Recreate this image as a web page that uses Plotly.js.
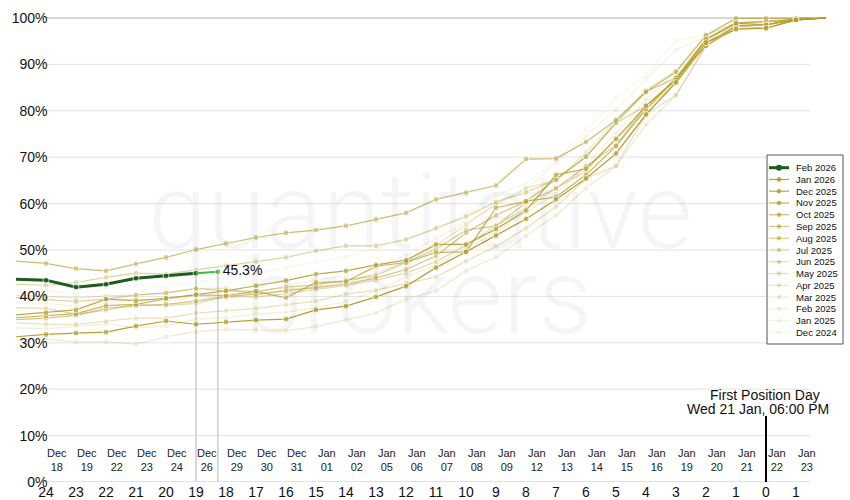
<!DOCTYPE html>
<html>
<head>
<meta charset="utf-8">
<script src="https://cdn.plot.ly/plotly-3.0.1.min.js"></script>
<style>
html,body{margin:0;padding:0;background:#fff;}
#chart{width:850px;height:500px;}
</style>
</head>
<body>
<div id="chart"></div>
<script>
// ---------- DATA ----------
const dayIndex = [-1,0,1,2,3,4,5,6,7,8,9,10,11,12,13,14,15,16,17,18,19,20,21,22,23,24,25,26];
const dayTickVals = [0,1,2,3,4,5,6,7,8,9,10,11,12,13,14,15,16,17,18,19,20,21,22,23,24,25];
const dayTickText = ['24','23','22','21','20','19','18','17','16','15','14','13','12','11','10','9','8','7','6','5','4','3','2','1','0','1'];
const dateLabels = ['Dec<br>18','Dec<br>19','Dec<br>22','Dec<br>23','Dec<br>24','Dec<br>26','Dec<br>29','Dec<br>30','Dec<br>31',
  'Jan<br>01','Jan<br>02','Jan<br>05','Jan<br>06','Jan<br>07','Jan<br>08','Jan<br>09','Jan<br>12','Jan<br>13','Jan<br>14',
  'Jan<br>15','Jan<br>16','Jan<br>19','Jan<br>20','Jan<br>21','Jan<br>22','Jan<br>23'];
const yTickVals = [0,10,20,30,40,50,60,70,80,90,100];
const yTickText = ['0%','10%','20%','30%','40%','50%','60%','70%','80%','90%','100%'];

const febDays = [-1,0,1,2,3,4,5];
const feb2026 = [43.7,43.5,42.0,42.6,43.9,44.4,45.0];
const latestDays = [5,5.73];
const latestValues = [45.0,45.3];

const jan2026 = [31.3,31.8,32.1,32.3,33.6,34.7,34.0,34.5,34.9,35.1,37.1,37.9,39.9,42.2,46.2,49.6,53.1,56.7,60.9,65.4,70.8,79.2,86.1,94.7,97.6,97.8,99.6,100];
const dec2025 = [36.0,36.5,37.1,39.4,39.1,39.6,40.4,41.2,42.3,43.4,44.8,45.5,46.8,47.8,51.2,51.2,54.5,58.5,66.2,67.5,73.9,81.1,86.6,95.4,98.9,98.5,99.6,100];
const nov2025 = [35.4,35.8,36.3,38.0,38.3,39.5,40.3,40.2,41.1,39.7,43.0,43.2,46.5,47.3,49.5,49.6,59.1,60.5,61.4,66.2,72.4,80.3,87.1,94.0,98.3,98.5,99.9,100];
const oct2025 = [47.6,47.1,46.0,45.5,47.0,48.4,50.1,51.4,52.7,53.7,54.3,55.2,56.6,58.0,60.9,62.4,63.9,69.6,69.7,73.3,78.0,84.1,88.4,96.3,99.9,99.9,99.9,100];
const sep2025 = [35.0,35.3,35.9,37.4,38.0,38.3,39.0,40.0,40.5,41.2,41.9,42.6,44.0,45.8,48.7,53.7,57.5,60.5,65.2,70.1,77.4,84.1,87.1,95.4,98.9,99.2,99.6,100];
const aug2025 = [39.8,39.4,38.9,39.4,40.3,40.7,41.7,41.2,41.1,42.0,42.5,43.5,44.5,47.3,50.2,54.3,55.2,60.2,63.3,68.0,72.6,81.0,86.6,94.7,98.3,97.8,99.6,100];
const jul2025 = [42.6,42.4,43.0,44.1,45.0,44.8,45.7,46.6,47.5,48.4,49.8,50.9,50.9,52.3,54.7,57.2,60.4,62.4,65.2,70.1,77.4,81.1,87.0,95.4,98.9,99.2,99.6,100];
const jun2025 = [37.6,37.4,36.2,37.0,38.2,38.0,38.5,39.9,39.9,40.6,41.5,42.3,43.5,45.0,47.5,51.0,55.2,59.0,63.3,67.0,74.1,80.3,86.1,94.0,98.3,98.5,99.6,100];
const may2025 = [34.3,34.0,34.0,34.6,35.3,35.3,36.4,36.9,37.4,38.2,39.0,40.5,41.3,42.8,44.2,47.6,50.8,54.7,59.3,65.4,68.1,79.2,83.4,94.0,97.6,97.8,99.6,100];
const apr2025 = [40.2,40.0,39.6,40.1,40.3,40.8,41.7,41.8,40.2,41.5,42.0,43.0,45.0,47.5,51.0,55.4,60.0,63.3,65.0,71.0,78.0,84.5,88.6,96.3,99.0,99.2,99.9,100];
const mar2025 = [30.6,30.8,30.2,30.2,29.7,31.3,32.4,32.9,32.8,32.6,33.5,35.0,36.4,39.4,41.2,45.5,48.5,53.0,57.5,63.3,68.1,77.0,83.4,94.0,97.6,97.8,99.6,100];
const feb2025 = [33.2,33.0,33.6,34.1,33.2,33.6,35.1,35.4,36.2,36.6,37.6,38.9,41.1,44.2,46.8,50.3,53.8,58.2,62.1,68.3,75.2,82.4,88.2,95.1,98.5,99.0,99.6,100];
const jan2025 = [38.8,38.5,37.9,38.5,39.4,39.0,40.0,39.5,40.8,42.3,43.6,44.4,46.0,49.1,52.5,55.9,59.6,63.1,68.7,74.6,80.2,86.9,93.1,96.0,99.0,99.4,99.9,100];
const dec2024 = [41.5,41.2,40.6,41.7,42.4,42.0,43.1,44.0,44.9,46.2,47.4,48.6,50.3,52.0,54.6,57.8,61.7,64.4,69.5,75.7,82.7,87.9,95.1,96.3,99.9,99.9,99.9,100];

const seriesNames = ['Jan 2026','Dec 2025','Nov 2025','Oct 2025','Sep 2025','Aug 2025','Jul 2025','Jun 2025','May 2025','Apr 2025','Mar 2025','Feb 2025','Jan 2025','Dec 2024'];
const seriesValues = [jan2026,dec2025,nov2025,oct2025,sep2025,aug2025,jul2025,jun2025,may2025,apr2025,mar2025,feb2025,jan2025,dec2024];
const firstPositionDay = 24;
const firstPositionLines = ['First Position Day','Wed 21 Jan, 06:00 PM'];

// ---------- STYLE / GEOMETRY ----------
const L = 16, R = 22, T = 13, B = 18;
const W = 850 - L - R, H = 500 - T - B;
const pxPerDay = 30, pxPerPct = 4.64;
const xRange = [-1, -1 + W / pxPerDay];
const yRange = [0, H / pxPerPct];
const px = x => (x - L) / W;          // pixel -> paper x
const py = y => (500 - B - y) / H;    // pixel -> paper y
const dx = x => (x - 46) / pxPerDay;  // pixel -> data x
const GOLD = 'rgb(180,156,38)';
const opac = [0.95,0.85,0.75,0.65,0.57,0.5,0.43,0.37,0.31,0.26,0.21,0.16,0.12,0.08];
const DARK = '#1d5c1d', LIGHTG = '#3dbb3d';
const FONT = 'Liberation Sans, Arial, sans-serif';

const markerSizes = xs => xs.map(x => (x < 0 || x > 25.5) ? 0 : 6);

const traces = [];
seriesValues.slice().reverse().forEach((vals, k) => {
  const idx = seriesValues.length - 1 - k;
  traces.push({
    type: 'scatter', mode: 'lines+markers', name: seriesNames[idx],
    x: dayIndex, y: vals, opacity: opac[idx],
    line: {color: GOLD, width: 1.2},
    marker: {color: GOLD, size: markerSizes(dayIndex)},
    showlegend: false, hoverinfo: 'skip'
  });
});
traces.push({
  type: 'scatter', mode: 'lines+markers', name: 'Feb 2026',
  x: febDays, y: feb2026,
  line: {color: DARK, width: 3},
  marker: {color: DARK, size: markerSizes(febDays)},
  showlegend: false, hoverinfo: 'skip'
});
traces.push({
  type: 'scatter', mode: 'lines+markers+text', name: 'latest',
  x: latestDays, y: latestValues,
  text: ['', latestValues[1].toFixed(1) + '%'],
  textposition: 'middle right',
  textfont: {family: FONT, size: 14, color: '#111'},
  line: {color: LIGHTG, width: 2},
  marker: {color: LIGHTG, size: [0, 6]},
  cliponaxis: false, showlegend: false, hoverinfo: 'skip'
});

// ---------- SHAPES ----------
const shapes = [];
yTickVals.forEach(v => {
  if (v === 0 || v === 100) return;
  shapes.push({type:'line', xref:'x', yref:'y', x0:dx(45), x1:dx(810), y0:v, y1:v,
    line:{color:'#e3e3e3', width:1}, layer:'below'});
});
shapes.push({type:'line', xref:'x', yref:'y', x0:dx(45), x1:dx(810), y0:100, y1:100, line:{color:'#b0b0b0', width:1}, layer:'below'});
shapes.push({type:'line', xref:'x', yref:'y', x0:dx(45), x1:dx(810), y0:0, y1:0, line:{color:'#c4c4c4', width:1}, layer:'below'});
shapes.push({type:'line', xref:'x', yref:'y', x0:febDays[febDays.length-1], x1:febDays[febDays.length-1], y0:0, y1:feb2026[feb2026.length-1], line:{color:'#d8d8d8', width:2}, layer:'below'});
shapes.push({type:'line', xref:'x', yref:'y', x0:latestDays[1], x1:latestDays[1], y0:0, y1:latestValues[1], line:{color:'#b5b5b5', width:1}, layer:'below'});
shapes.push({type:'line', xref:'x', yref:'y', x0:firstPositionDay, x1:firstPositionDay, y0:0, y1:14.2, line:{color:'#000', width:2}, layer:'above'});

// legend
const legTop = 155, legBot = 344, legL = 767, legR = 843;
shapes.push({type:'rect', xref:'paper', yref:'paper', x0:px(legL), x1:px(legR), y0:py(legBot), y1:py(legTop),
  fillcolor:'#fff', line:{color:'#555', width:1}, layer:'above'});
const annotations = [];
const legNames = ['Feb 2026'].concat(seriesNames);
legNames.forEach((nm, k) => {
  const yy = 167.7 + k * 11.76;
  const isFeb = k === 0;
  const col = isFeb ? DARK : GOLD;
  const op = isFeb ? 1 : opac[k - 1];
  shapes.push({type:'line', xref:'paper', yref:'paper', x0:px(769), x1:px(789), y0:py(yy), y1:py(yy),
    line:{color:col, width:isFeb ? 3 : 1.2}, opacity:op, layer:'above'});
  const r = isFeb ? 3 : 2.2;
  shapes.push({type:'circle', xref:'paper', yref:'paper', x0:px(779 - r), x1:px(779 + r), y0:py(yy + r), y1:py(yy - r),
    fillcolor:col, line:{width:0}, opacity:op, layer:'above'});
  annotations.push({xref:'paper', yref:'paper', x:px(795), y:py(yy), xanchor:'left', yanchor:'middle',
    text:nm, showarrow:false, borderpad:0, font:{family:FONT, size:9.5, color:'#111'}});
});

// date labels
dateLabels.forEach((t, i) => {
  annotations.push({xref:'x', yref:'paper', x:dayTickVals[i] + 0.38, y:py(459.5), xanchor:'center', yanchor:'middle',
    text:t, showarrow:false, align:'center', font:{family:FONT, size:11, color:'#222'}});
});
// first position day (two tight lines)
annotations.push({xref:'paper', yref:'paper', x:px(765), y:py(395), xanchor:'center', yanchor:'middle',
  text:firstPositionLines[0], showarrow:false, borderpad:0, font:{family:FONT, size:14, color:'#111'}});
annotations.push({xref:'paper', yref:'paper', x:px(758), y:py(409), xanchor:'center', yanchor:'middle',
  text:firstPositionLines[1], showarrow:false, borderpad:0, font:{family:FONT, size:14, color:'#111'}});
// watermark
annotations.push({xref:'paper', yref:'paper', x:px(420), y:py(212), xanchor:'center', yanchor:'middle',
  text:'quantitative', showarrow:false, font:{family:'Roboto, Liberation Sans, sans-serif', size:106, weight:300, color:'rgba(0,0,0,0.04)'}});
annotations.push({xref:'paper', yref:'paper', x:px(418), y:py(297), xanchor:'center', yanchor:'middle',
  text:'brokers', showarrow:false, font:{family:'Roboto, Liberation Sans, sans-serif', size:106, weight:300, color:'rgba(0,0,0,0.04)'}});

const layout = {
  width: 850, height: 500,
  margin: {l:L, r:R, t:T, b:B, pad:0},
  paper_bgcolor: '#fff', plot_bgcolor: 'rgba(0,0,0,0)',
  showlegend: false,
  font: {family: FONT, color: '#111'},
  xaxis: {range: xRange, tickmode:'array', tickvals: dayTickVals, ticktext: dayTickText,
    showgrid:false, zeroline:false, showline:false, ticks:'', automargin:false,
    tickfont:{family:FONT, size:14, color:'#111'}, fixedrange:true},
  yaxis: {range: yRange, anchor:'free', position: px(47.5), side:'left',
    tickmode:'array', tickvals: yTickVals, ticktext: yTickText,
    showgrid:false, zeroline:false, showline:false, ticks:'', automargin:false,
    tickfont:{family:FONT, size:14, color:'#111'}, fixedrange:true},
  shapes: shapes,
  annotations: annotations
};

Plotly.newPlot('chart', traces, layout, {displayModeBar:false, staticPlot:true});
</script>
</body>
</html>
